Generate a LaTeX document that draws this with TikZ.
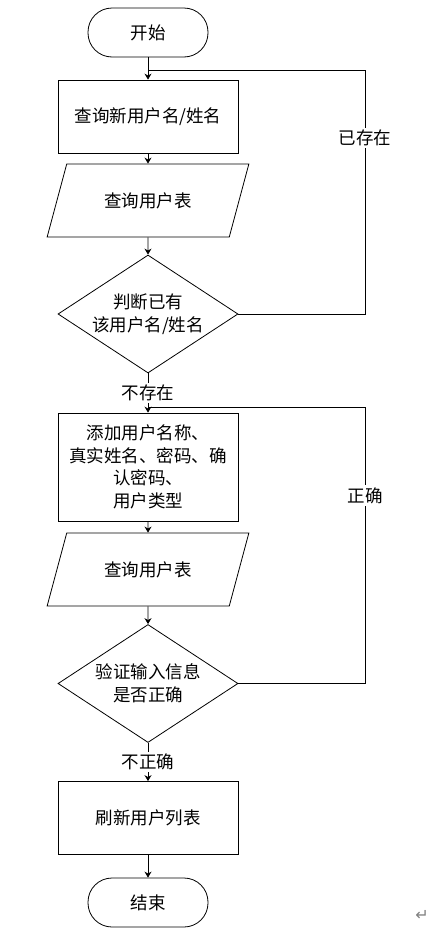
\documentclass[tikz,border=0pt]{standalone}
\usepackage{fontspec}
\newfontfamily\cjk{Noto Sans CJK SC}
\newfontfamily\sym{DejaVu Sans}
\usetikzlibrary{arrows.meta,shapes.geometric}

\begin{document}
\begin{tikzpicture}[x=1pt,y=-1pt,line width=0.8pt,>={Stealth[length=6pt,width=7pt]},
every node/.style={font=\cjk\fontsize{17.5}{22.5}\selectfont},
term/.style={draw,rounded corners=24pt,minimum width=120pt,minimum height=49pt},
proc/.style={draw,minimum width=180pt,minimum height=73pt,align=center},
io/.style={draw,trapezium,trapezium left angle=63.7,trapezium right angle=116.3,trapezium stretches=true,minimum width=202pt,minimum height=73pt},
dec/.style={draw,diamond,minimum width=180pt,minimum height=118pt,inner sep=0pt,aspect=1.5,align=center},
lbl/.style={fill=white,inner sep=2pt}]
\useasboundingbox (0,0) rectangle (433,932);
\node[term](start) at (148,32.5){开始};
\node[proc](find) at (148,116.5){查询新用户名/姓名};
\node[io](tab1) at (148,200.5){查询用户表};
\node[dec](exist) at (148,314){判断已有\\该用户名/姓名};
\node[proc,minimum height=108pt](add) at (148,467){添加用户名称、\\真实姓名、密码、确\\认密码、\\用户类型};
\node[io](tab2) at (148,569.5){查询用户表};
\node[dec](check) at (148,683.5){验证输入信息\\是否正确};
\node[proc](fresh) at (148,818){刷新用户列表};
\node[term](stop) at (148,902.5){结束};
\coordinate (j1) at (148,70);
\coordinate (r1) at (365,70);
\coordinate (j2) at (148,407);
\coordinate (r2) at (365,407);
\draw[->](start)--(find);
\draw[->](find)--(tab1);
\draw[->](tab1)--(exist);
\draw[->](exist)--node[lbl](no1){不存在}(add);
\draw(exist.east)-|node[pos=0.86,lbl](yes1){已存在}(r1)--(j1);
\draw[->](add)--(tab2);
\draw[->](tab2)--(check);
\draw[->](check)--node[lbl](no2){不正确}(fresh);
\draw(check.east)-|node[pos=0.84,lbl](yes2){正确}(r2)--(j2);
\draw[->](fresh)--(stop);
\node[text=gray,font=\sym\fontsize{16}{16}\selectfont](ret) at (422,915){↵};
\end{tikzpicture}
\end{document}
